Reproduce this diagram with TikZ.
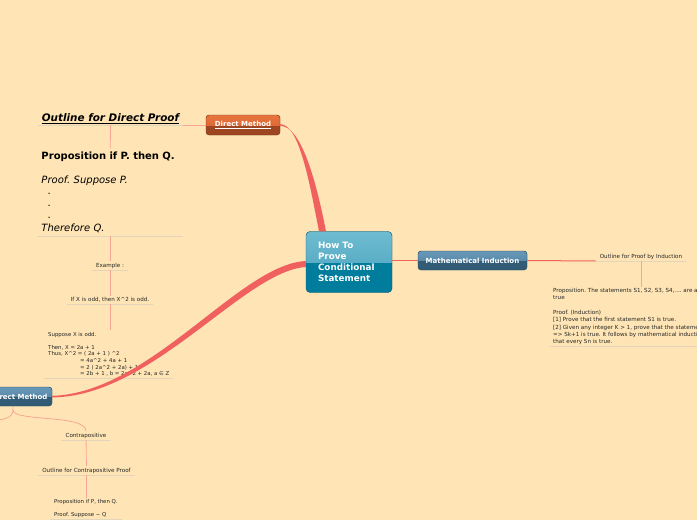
\documentclass[tikz,border=0pt]{standalone}
\usepackage{fontspec}
\setmainfont{DejaVu Sans}
\frenchspacing
\usetikzlibrary{calc,positioning}
\definecolor{paper}{RGB}{255,229,181}
\definecolor{branch}{RGB}{240,96,94}
\definecolor{twigc}{RGB}{248,166,148}
\definecolor{ulc}{RGB}{228,212,186}
\definecolor{ink}{RGB}{38,38,38}
\definecolor{tealtop}{RGB}{110,188,208}
\definecolor{tealmid}{RGB}{72,160,190}
\definecolor{tealbot}{RGB}{0,124,156}
\definecolor{tealrim}{RGB}{24,92,112}
\definecolor{rusttop}{RGB}{232,116,62}
\definecolor{rustmid}{RGB}{212,96,48}
\definecolor{rustbot}{RGB}{158,70,34}
\definecolor{slatetop}{RGB}{104,152,184}
\definecolor{slatemid}{RGB}{78,124,154}
\definecolor{slatebot}{RGB}{50,92,118}
\tikzset{
mind/.style={x=1pt,y=-1pt},
topic/.style n args={3}{rectangle,rounded corners=3pt,draw=#3!75!black,
    fill=#3,text=white,inner sep=0pt,
    path picture={\shade[sharp corners,top color=#1,bottom color=#2]
        (path picture bounding box.north west) rectangle
        (path picture bounding box.east);}},
hub/.style={topic={tealtop}{tealmid}{tealbot},draw=tealrim,
    minimum width=86pt,minimum height=61pt,rounded corners=4pt,
    font=\bfseries\fontsize{8.8}{11}\selectfont,align=left,text width=62pt},
method/.style={minimum height=19pt,font=\bfseries\fontsize{7}{8}\selectfont},
uline/.style={draw=ulc,line width=0.9pt},
leaf/.style={text=ink,inner xsep=4pt,inner ysep=1.5pt,
    font=\fontsize{5.6}{6.6}\selectfont,
    append after command={(\tikzlastnode.south west) edge[uline]
        (\tikzlastnode.south east)}},
twig/.style={draw=twigc,line width=0.8pt},
}

\begin{document}
\begin{tikzpicture}[mind]
    \useasboundingbox (0,0) rectangle (697,520);
    \fill[paper] (0,0) rectangle (697,520);
    \clip (0,0) rectangle (697,520);

    % main topics
    \node[hub] (hub) at (349,262) {How To\\Prove\\Conditional\\Statement};
    \node[topic={rusttop}{rustmid}{rustbot},method,minimum width=74pt,
        minimum height=20pt] (dm) at (243,125) {\underline{Direct Method}};
    \node[topic={slatetop}{slatemid}{slatebot},method,minimum width=109pt]
        (mi) at (472.5,260.5) {Mathematical Induction};
    \node[topic={slatetop}{slatemid}{slatebot},method,minimum width=72pt]
        (im) at (16,396.5) {Indirect Method};

    % direct proof column
    \node[leaf,anchor=south,text=black,inner xsep=3.5pt,
        font=\bfseries\itshape\fontsize{10.4}{12}\selectfont]
        (outline) at (110.5,125) {\underline{Outline for Direct Proof}};
    \node[leaf,anchor=south,text=black,text width=137pt,align=left,
        inner ysep=3pt,font=\fontsize{10}{12}\selectfont] (propblock) at (110,236)
        {\textbf{Proposition if P. then Q.}\\[12pt]
         \textit{Proof. Suppose P.}\\[-1.5pt]
         \hspace*{6pt}.\\ \hspace*{6pt}.\\ \hspace*{6pt}.\\[1.5pt]
         \textit{Therefore Q.}};
    \node[leaf,anchor=south] (example) at (110,270) {Example :};
    \node[leaf,anchor=south] (ifodd) at (110,304)
        {If X is odd, then X\textasciicircum2 is odd.};
    \node[leaf,anchor=south west,align=left,
        font=\fontsize{5.4}{6.6}\selectfont] (suppose) at (44,378)
        {Suppose X is odd.\\[6.6pt]
         Then, X = 2a + 1\\
         Thus, X\textasciicircum2 = ( 2a + 1 ) \textasciicircum2\\
         \hspace*{32pt}= 4a\textasciicircum2 + 4a + 1\\
         \hspace*{32pt}= 2 ( 2a\textasciicircum2 + 2a) + 1\\
         \hspace*{32pt}= 2b + 1 , b = 2a\textasciicircum2 + 2a, a ∈ Z};

    % indirect proof column
    \coordinate (fork) at (13,410);
    \coordinate (lost) at (-12,421);
    \node[leaf,anchor=south] (contra) at (86,440) {Contrapositive};
    \node[leaf,anchor=south] (contraout) at (86.5,475)
        {Outline for Contrapositive Proof};
    \node[leaf,anchor=north west,align=left,font=\fontsize{5.4}{6.5}\selectfont]
        (contrablock) at (50,498)
        {Proposition if P, then Q.\\[6.5pt]
         Proof. Suppose \textasciitilde{} Q};

    % induction column
    \node[leaf,anchor=south] (ind) at (641,261) {Outline for Proof by Induction};
    \node[leaf,anchor=south west,align=left,font=\fontsize{5.6}{7.3}\selectfont]
        (indblock) at (549,346.5)
        {Proposition. The statements S1, S2, S3, S4,.... are all\\
         true\\[7.3pt]
         Proof. (Induction)\\
         {[1]} Prove that the first statement S1 is true.\\
         {[2]} Given any integer K > 1, prove that the statement Sk\\
         => Sk+1 is true. It follows by mathematical induction\\
         that every Sn is true.};

    % thick branches
    \fill[branch] ($(hub.north)+(-30,0)$) .. controls (309,180) and (299,124.2)
        .. ($(dm.east)+(0,-0.8)$) -- ($(dm.east)+(0,0.8)$)
        .. controls (301,125.8) and (316,180) .. ($(hub.north)+(-23,0)$) -- cycle;
    \fill[branch] ($(hub.west)+(0,-1)$) .. controls (240,264) and (150,393.2)
        .. ($(im.east)+(0,-0.7)$) -- ($(im.east)+(0,0.9)$)
        .. controls (152,396.8) and (244,271) .. ($(hub.west)+(0,5)$) -- cycle;
    \draw[branch,line width=1.4pt] (hub.east |- mi.west) -- (mi.west);
    \draw[branch,line width=1pt] (mi.east) -- (ind.south west);

    % thin twigs
    \path[twig]
        (dm.west) edge (outline.south east)
        (outline) edge (propblock)
        (propblock) edge (example)
        (example) edge (ifodd)
        (ifodd.south) edge (ifodd.south |- suppose.north)
        (contra) edge (contraout)
        (contraout.south) edge (contraout.south |- contrablock.north)
        (ind.south) edge (ind.south |- indblock.north)
    ;
    \draw[twig] (im.south -| fork) -- (fork)
        .. controls (13,422) and (86,414) .. (contra.north);
    \draw[twig] (fork) .. controls (13,418) and (4,420) .. (lost);
\end{tikzpicture}
\end{document}
